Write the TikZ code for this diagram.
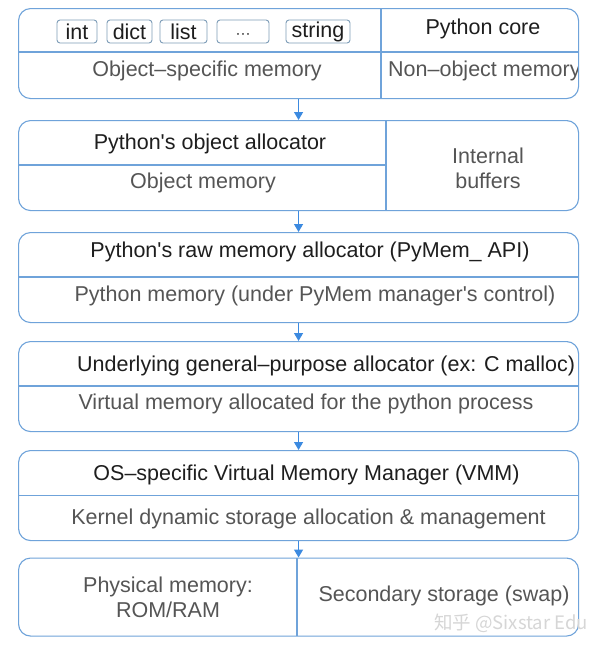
\documentclass[tikz,border=0pt]{standalone}
\usepackage{fontspec}
\setmainfont{Liberation Sans}[Ligatures=TeXOff]
\newfontfamily\cjkfont{Noto Sans CJK SC}
\usetikzlibrary{arrows.meta}
\definecolor{frame}{HTML}{6FA3DA}
\definecolor{arr}{HTML}{3C8AE0}
\definecolor{head}{HTML}{1E1E1E}
\definecolor{sub}{HTML}{555555}
\definecolor{tag}{HTML}{7E9DB8}
\definecolor{wm}{HTML}{D6D6D6}
\begin{document}
\begin{tikzpicture}[x=1pt,y=-1pt,
  panel/.style={draw=frame, line width=1.1pt, rounded corners=12pt, minimum width=560pt, anchor=north west, inner sep=0pt},
  divider/.style={draw=frame, line width=1.1pt},
  flow/.style={draw=arr, line width=1.2pt, -{Triangle[width=9pt,length=8pt]}},
  tagbox/.style={draw=tag, line width=0.9pt, rounded corners=3pt, inner sep=0pt, text=head, font=\fontsize{21.5}{24}\selectfont},
  hd/.style={text=head, font=\fontsize{21.5}{25}\selectfont, inner sep=0pt},
  sb/.style={text=sub, font=\fontsize{21.5}{25}\selectfont, inner sep=0pt},
]
\fill[white] (0,0) rectangle (600,648);
\useasboundingbox (0,0) rectangle (600,648);

% panels
\node[panel, minimum height=90pt] (b1) at (18,8) {};
\node[panel, minimum height=90pt] (b2) at (18,120) {};
\node[panel, minimum height=90pt] (b3) at (18,232) {};
\node[panel, minimum height=90pt] (b4) at (18,341) {};
\node[panel, minimum height=90pt] (b5) at (18,450) {};
\node[panel, minimum height=78pt] (b6) at (18,557.5) {};

% dividers
\draw[divider] (18,52) -- (578,52);
\draw[divider] (381,8) -- (381,98);
\draw[divider] (18,165) -- (386,165);
\draw[divider] (386,120) -- (386,210);
\draw[divider] (18,277) -- (578,277);
\draw[divider] (18,386) -- (578,386);
\draw[divider] (18,495.5) -- (578,495.5);
\draw[divider] (297,557.5) -- (297,635.5);

% arrows
\draw[flow] (b1.south) -- (b2.north);
\draw[flow] (b2.south) -- (b3.north);
\draw[flow] (b3.south) -- (b4.north);
\draw[flow] (b4.south) -- (b5.north);
\draw[flow] (b5.south) -- (b6.north);

% box 1
\node[tagbox, minimum width=40pt, minimum height=23pt] (t1) at (77,31.5) {int};
\node[tagbox, minimum width=45pt, minimum height=23pt] (t2) at (129.5,31.5) {dict};
\node[tagbox, minimum width=47pt, minimum height=23pt] (t3) at (183.5,31.5) {list};
\node[tagbox, minimum width=52pt, minimum height=23pt] (t4) at (243,31.5) {};
\node[text=head, inner sep=0pt, font=\fontsize{15}{18}\selectfont] (t4dots) at (243,36.5) {···};
\node[tagbox, minimum width=64pt, minimum height=23pt] (t5) at (318,31.5) {string};
\node[hd] (pc) at (483,29) {Python core};
\node[sb] (osm) at (207,71) {Object–specific memory};
\begin{scope}
\clip (381,52) rectangle (577.5,98);
\node[sb, anchor=west] (nom) at (388,71) {Non–object memory};
\end{scope}

% box 2
\node[hd] (poa) at (210,144) {Python's object allocator};
\node[sb] (om) at (203,183) {Object memory};
\node[sb, align=center] (ib) at (488,168) {Internal\\buffers};

% box 3
\node[hd] (raw) at (310,252) {Python's raw memory allocator (PyMem\_ API)};
\node[sb] (pm) at (315,296) {Python memory (under PyMem manager's control)};

% box 4
\begin{scope}
\clip (18,341) rectangle (577.5,386);
\node[hd, anchor=west] (ug) at (77,366) {Underlying general–purpose allocator (ex: C malloc)};
\end{scope}
\node[sb] (vm) at (306,404) {Virtual memory allocated for the python process};

% box 5
\node[hd] (os) at (306.5,475) {OS–specific Virtual Memory Manager (VMM)};
\node[sb] (kd) at (308.5,519) {Kernel dynamic storage allocation \& management};

% box 6
\node[sb, align=center] (phys) at (168,597) {Physical memory:\\ROM/RAM};
\node[sb] (sec) at (444,596) {Secondary storage (swap)};
\node[text=wm, font=\cjkfont\fontsize{18.5}{21}\selectfont, inner sep=0pt] (wmk) at (511,623) {知乎 @Sixstar Edu};
\end{tikzpicture}
\end{document}
